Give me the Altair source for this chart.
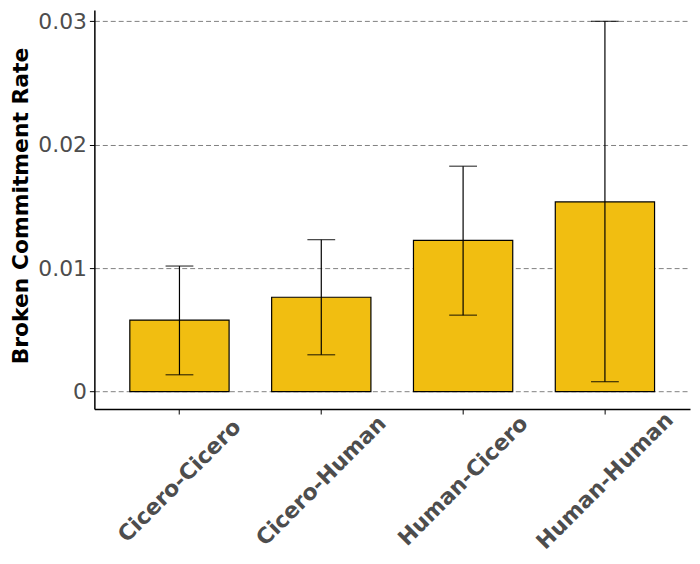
import pandas as pd
import altair as alt

# Values
pairs = ["Cicero-Cicero", "Cicero-Human", "Human-Cicero", "Human-Human"]
rates = [0.00579, 0.00764, 0.01225, 0.01537]
lower = [0.00136, 0.00298, 0.00619, 0.00080]
upper = [0.01017, 0.01231, 0.01826, 0.03000]

y_ticks = [0, 0.01, 0.02, 0.03]

data = pd.DataFrame({"pair": pairs, "rate": rates, "lower": lower, "upper": upper})

font = "DejaVu Sans"
bar_color = "#F1BE11"

x_enc = alt.X(
    "pair:N",
    sort=pairs,
    title=None,
    scale=alt.Scale(paddingInner=0.3, paddingOuter=0.25),
    axis=alt.Axis(
        labelAngle=-45,
        labelAlign="center",
        labelBaseline="middle",
        labelPadding=67,
        labelLimit=400,
        labelFontSize=22,
        labelFontWeight="bold",
        labelColor="#4d4d4d",
        labelFont=font,
        tickSize=5,
        tickColor="black",
        domainColor="black",
        domainWidth=1.5,
        grid=False,
    ),
)

y_scale = alt.Scale(domain=[-0.00142, 0.03092], nice=False, zero=False)

y_axis = alt.Axis(
    values=y_ticks,
    labelExpr="datum.value == 0 ? '0' : format(datum.value, '.2f')",
    labelFontSize=22,
    labelColor="#4d4d4d",
    labelFont=font,
    labelPadding=3,
    tickSize=5,
    tickColor="black",
    domainColor="black",
    domainWidth=1.5,
    grid=True,
    gridColor="#808080",
    gridDash=[5, 3],
    gridWidth=1,
    title="Broken Commitment Rate",
    titleFontSize=22,
    titleFontWeight="bold",
    titleColor="black",
    titleFont=font,
    titleX=-67,
    titleY=197,
    titleBaseline="alphabetic",
)

base = alt.Chart(data)

bars = base.mark_bar(color=bar_color, stroke="black", strokeWidth=1.2).encode(
    x=x_enc,
    y=alt.Y("rate:Q", scale=y_scale, axis=y_axis),
    y2=alt.datum(0),
)

stems = base.mark_rule(color="black", strokeWidth=1.2).encode(
    x=alt.X("pair:N", sort=pairs),
    y="lower:Q",
    y2="upper:Q",
)

caps_low = base.mark_tick(color="black", size=28, thickness=1.3).encode(
    x=alt.X("pair:N", sort=pairs),
    y="lower:Q",
)

caps_high = base.mark_tick(color="black", size=28, thickness=1.3).encode(
    x=alt.X("pair:N", sort=pairs),
    y="upper:Q",
)

chart = alt.layer(bars, stems, caps_low, caps_high).properties(
    width=600,
    height=402,
    autosize=alt.AutoSizeParams(type="none"),
    padding={"left": 87, "top": 0, "right": 2, "bottom": 146},
).configure_view(stroke="transparent")

chart.save("out.html", embed_options={"renderer": "svg", "actions": False})
